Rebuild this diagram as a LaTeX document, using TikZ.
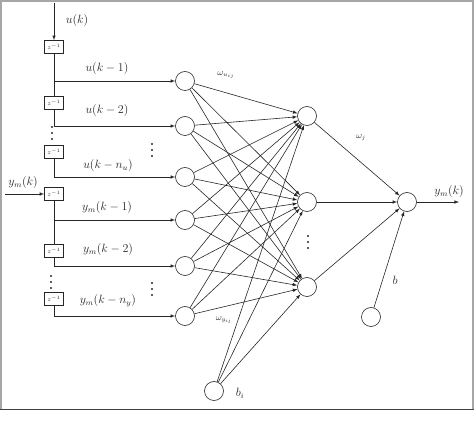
\documentclass[tikz,border=0pt]{standalone}
\usepackage{amsmath,amssymb}
\usepackage{tikz}
\usetikzlibrary{arrows}

\begin{document}
\begin{tikzpicture}[x=1pt, y=-1pt, >=latex, line width=0.6pt, black!85,
  delaybox/.style={draw, minimum width=19pt, minimum height=13pt, inner sep=0pt, font=\fontsize{6}{7}\selectfont},
  neuron/.style={draw, circle, minimum size=19pt, inner sep=0pt},
  lbl/.style={font=\fontsize{12}{14}\selectfont, inner sep=1pt},
  wlbl/.style={font=\small, inner sep=1pt}]
\useasboundingbox (0,0) rectangle (474,430);
% рамка
\draw [gray!70, line width=1.5pt] (1,409) -- (1,1) -- (473,1) -- (473,409);
\draw [black!75, line width=1pt] (0,409) -- (474,409);
% задержки
\node [delaybox] (d1) at (54,47) {$z^{-1}$};
\node [delaybox] (d2) at (54,103) {$z^{-1}$};
\node [delaybox] (d3) at (54,152) {$z^{-1}$};
\node [delaybox] (d4) at (54,194) {$z^{-1}$};
\node [delaybox] (d5) at (54,251) {$z^{-1}$};
\node [delaybox] (d6) at (54,299) {$z^{-1}$};
% нейроны
\node [neuron] (i1) at (185,81) {};
\node [neuron] (i2) at (185,126) {};
\node [neuron] (i3) at (185,177) {};
\node [neuron] (i4) at (185,220) {};
\node [neuron] (i5) at (185,266) {};
\node [neuron] (i6) at (185,316) {};
\node [neuron] (h1) at (307,116) {};
\node [neuron] (h2) at (307,202) {};
\node [neuron] (h3) at (307,287) {};
\node [neuron] (o) at (407,202) {};
\node [neuron] (bi) at (214,391) {};
\node [neuron] (bb) at (371,317) {};
\coordinate (uin) at (54,3);
\coordinate (yin) at (5,194);
\coordinate (yout) at (459,202);
% входы
\draw [->] (uin) -- (d1);
\draw [->] (yin) -- (d4);
\draw (d1) -- (d2);
\draw [->] (d1.south) |- (i1);
\draw [->] (d2.south) |- (i2);
\draw [->] (d3.south) |- (i3);
\draw (d4) -- (d5);
\draw [->] (d4.south) |- (i4);
\draw [->] (d5.south) |- (i5);
\draw [->] (d6.south) |- (i6);
% связи
\foreach \i in {1,...,6}
  \foreach \j in {1,2,3}
    \draw [->] (i\i) -- (h\j);
\foreach \j in {1,2,3} {
  \draw [->] (bi) -- (h\j);
  \draw [->] (h\j) -- (o);
}
\draw [->] (bb) -- (o);
\draw [->] (o) -- (yout);
% точки
\foreach \x/\y in {52/127, 51/276, 152/144, 152/283, 308/236}
  \foreach \k in {0,6,12}
    \fill (\x,\y+\k) circle [radius=1.2];
% подписи
\node [lbl] (tu) at (77,21) {$u(k)$};
\node [lbl] (ty) at (23,183) {$y_m(k)$};
\node [lbl] (t1) at (107,69) {$u(k-1)$};
\node [lbl] (t2) at (107,111) {$u(k-2)$};
\node [lbl] (t3) at (108,166) {$u(k-n_u)$};
\node [lbl] (t4) at (107,208) {$y_m(k-1)$};
\node [lbl] (t5) at (108,250) {$y_m(k-2)$};
\node [lbl] (t6) at (108,301) {$y_m(k-n_y)$};
\node [lbl] (tout) at (449,192) {$y_m(k)$};
\node [lbl] (tbi) at (240,393) {$b_i$};
\node [lbl] (tb) at (395,280) {$b$};
\node [wlbl] (wu) at (226,75) {$\omega_{u_{ij}}$};
\node [wlbl] (wy) at (224,320) {$\omega_{y_{ij}}$};
\node [wlbl] (wj) at (361,138) {$\omega_j$};
\end{tikzpicture}
\end{document}
